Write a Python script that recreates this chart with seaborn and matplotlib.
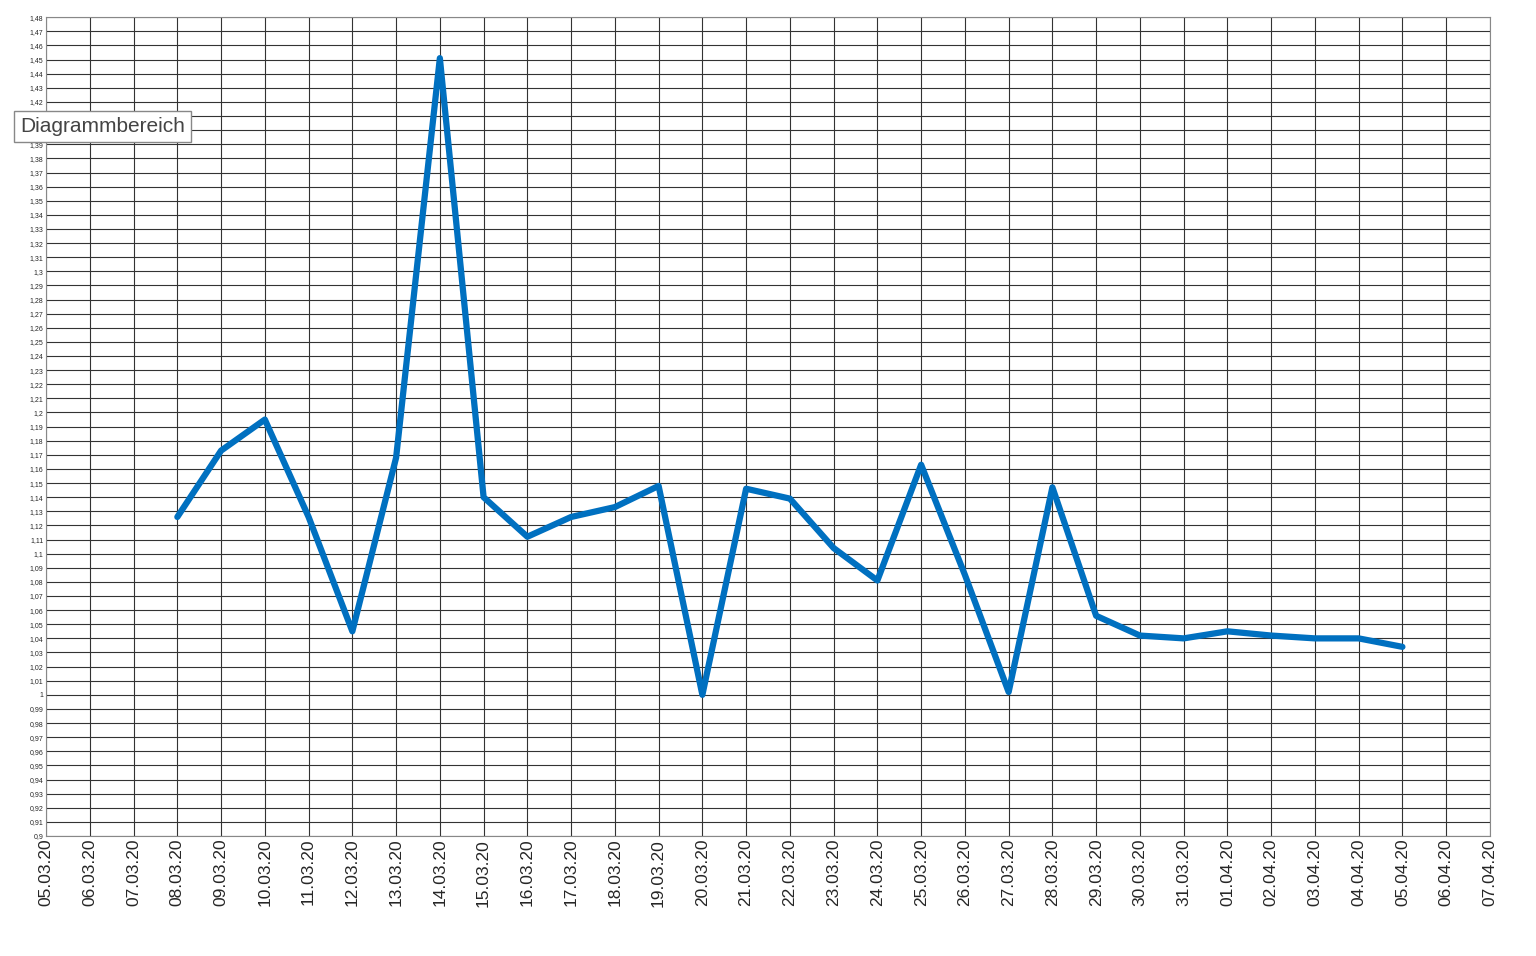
import matplotlib
matplotlib.use('Agg')
import matplotlib.pyplot as plt
import seaborn as sns
import pandas as pd
import numpy as np

# Dates on the x axis (05.03.20 - 07.04.20)
dates = ['05.03.20', '06.03.20', '07.03.20', '08.03.20', '09.03.20', '10.03.20', '11.03.20',
         '12.03.20', '13.03.20', '14.03.20', '15.03.20', '16.03.20', '17.03.20', '18.03.20',
         '19.03.20', '20.03.20', '21.03.20', '22.03.20', '23.03.20', '24.03.20', '25.03.20',
         '26.03.20', '27.03.20', '28.03.20', '29.03.20', '30.03.20', '31.03.20', '01.04.20',
         '02.04.20', '03.04.20', '04.04.20', '05.04.20', '06.04.20', '07.04.20']

# values from 08.03.20 to 05.04.20
values = [1.126, 1.173, 1.195, 1.126, 1.045, 1.168, 1.451, 1.140, 1.112, 1.126,
          1.133, 1.148, 1.000, 1.146, 1.139, 1.104, 1.081, 1.163, 1.085, 1.002,
          1.147, 1.056, 1.042, 1.040, 1.045, 1.042, 1.040, 1.040, 1.034]
first_idx = 3

df = pd.DataFrame({'x': np.arange(first_idx, first_idx + len(values)), 'y': values})

sns.set_style('white')
plt.rcParams['font.family'] = ['Liberation Sans', 'DejaVu Sans']
fig = plt.figure(figsize=(15.36, 9.56), dpi=100)
ax = fig.add_axes([0.030, 0.1255, 0.940, 0.8565])
sns.lineplot(data=df, x='x', y='y', ax=ax, color='#0070C0', linewidth=4.5)

ax.set_xlim(0, len(dates) - 1)
ax.set_ylim(0.9, 1.48)
ax.set_xticks(range(len(dates)))
ax.set_xticklabels(dates, rotation=90, fontsize=12.5)
yt = np.round(np.arange(0.90, 1.4801, 0.01), 2)
ax.set_yticks(yt)
ax.set_yticklabels([('%g' % v).replace('.', ',') for v in yt], fontsize=5)
ax.grid(True, color='#333333', linewidth=0.8)
for s in ax.spines.values():
    s.set_color('#888888')
ax.tick_params(length=0, pad=2)
ax.set_xlabel('')
ax.set_ylabel('')

fig.text(0.013, 0.862, 'Diagrammbereich', fontsize=15, color='#444444',
         bbox=dict(boxstyle='square,pad=0.3', fc='white', ec='#888888'))

plt.savefig('out.png', dpi=100)
plt.close()
